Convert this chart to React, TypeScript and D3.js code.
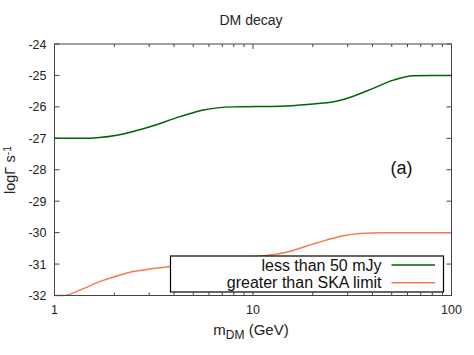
import React from "react";
import * as d3 from "d3";

const W = 474;
const H = 355;

const greenMass = [1, 1.4, 2.06, 3.03, 4.29, 5.62, 7.93, 13.9, 20.1, 25.4, 32, 40.3, 50.9, 64, 80, 100];
const greenVal = [-27, -27, -26.9, -26.63, -26.31, -26.1, -26.0, -25.98, -25.91, -25.84, -25.66, -25.41, -25.15, -25.01, -25, -25];

const orangeMass = [1, 1.11, 1.34, 1.69, 2.06, 2.49, 3.03, 3.81, 5.4, 7.07, 10.4, 14.2, 20.9, 28.5, 34.5, 45.3, 100];
const orangeVal = [-32, -32, -31.83, -31.56, -31.38, -31.24, -31.16, -31.08, -30.97, -30.92, -30.76, -30.65, -30.33, -30.1, -30.03, -30, -30];

const yTicks = [-24, -25, -26, -27, -28, -29, -30, -31, -32];
const xMajor = [1, 10, 100];
const xMinor = [2, 3, 4, 5, 6, 7, 8, 9, 20, 30, 40, 50, 60, 70, 80, 90];

const seriesLabels = ["less than 50 mJy", "greater than SKA limit"];
const seriesColors = ["#006400", "#f47a50"];

export default function App() {
  const left = 54.5, right = 451.5, top = 44, bottom = 295.5;
  const x = d3.scaleLog().domain([1, 100]).range([left, right]);
  const y = d3.scaleLinear().domain([-32, -24]).range([bottom, top]);
  const line = d3
    .line<[number, number]>()
    .x((d) => x(d[0]))
    .y((d) => y(d[1]))
    .curve(d3.curveMonotoneX);
  const g = line(greenMass.map((m, i) => [m, greenVal[i]]));
  const o = line(orangeMass.map((m, i) => [m, orangeVal[i]]));
  const font = "Liberation Sans, Arial, sans-serif";
  const frame = "#444";
  return (
    <svg width={W} height={H} style={{ position: "absolute", left: 0, top: 0, background: "#fff" }} fontFamily={font}>
      <text x={251} y={25} fontSize={14} textAnchor="middle" fill="#222">DM decay</text>
      {yTicks.map((t) => (
        <g key={"y" + t}>
          <line x1={left} x2={left + 5} y1={y(t)} y2={y(t)} stroke={frame} />
          <line x1={right} x2={right - 5} y1={y(t)} y2={y(t)} stroke={frame} />
          <text x={left - 8} y={y(t) + 4.5} fontSize={12.5} textAnchor="end" fill="#222">{t}</text>
        </g>
      ))}
      {xMajor.map((t) => (
        <g key={"x" + t}>
          <line x1={x(t)} x2={x(t)} y1={bottom} y2={bottom - 5} stroke={frame} />
          <line x1={x(t)} x2={x(t)} y1={top} y2={top + 5} stroke={frame} />
          <text x={x(t)} y={314} fontSize={12.5} textAnchor="middle" fill="#222">{t}</text>
        </g>
      ))}
      {xMinor.map((t) => (
        <g key={"xm" + t}>
          <line x1={x(t)} x2={x(t)} y1={bottom} y2={bottom - 3} stroke={frame} />
          <line x1={x(t)} x2={x(t)} y1={top} y2={top + 3} stroke={frame} />
        </g>
      ))}
      <path d={g ?? ""} fill="none" stroke={seriesColors[0]} strokeWidth={1.5} />
      <path d={o ?? ""} fill="none" stroke={seriesColors[1]} strokeWidth={1.5} />
      <rect x={left} y={top} width={right - left} height={bottom - top} fill="none" stroke={frame} strokeWidth={1} />
      <rect x={170.5} y={256} width={273} height={36} fill="#fff" stroke="#000" strokeWidth={1.2} />
      {seriesLabels.map((s, i) => (
        <g key={s}>
          <text x={381.5} y={270.5 + i * 17.7} fontSize={16} textAnchor="end" fill="#111">{s}</text>
          <line x1={391.5} x2={435} y1={265 + i * 17.7} y2={265 + i * 17.7} stroke={seriesColors[i]} strokeWidth={1.5} />
        </g>
      ))}
      <text x={401.5} y={174} fontSize={18} textAnchor="middle" fill="#111">(a)</text>
      <text transform="translate(15,170) rotate(-90)" fontSize={14.5} textAnchor="middle" fill="#222">
        logΓ s<tspan dy={-4} fontSize={10.5}>-1</tspan>
      </text>
      <text x={251} y={335} fontSize={15} textAnchor="middle" fill="#222">
        m<tspan dy={4} fontSize={12}>DM</tspan><tspan dy={-4}> (GeV)</tspan>
      </text>
    </svg>
  );
}
